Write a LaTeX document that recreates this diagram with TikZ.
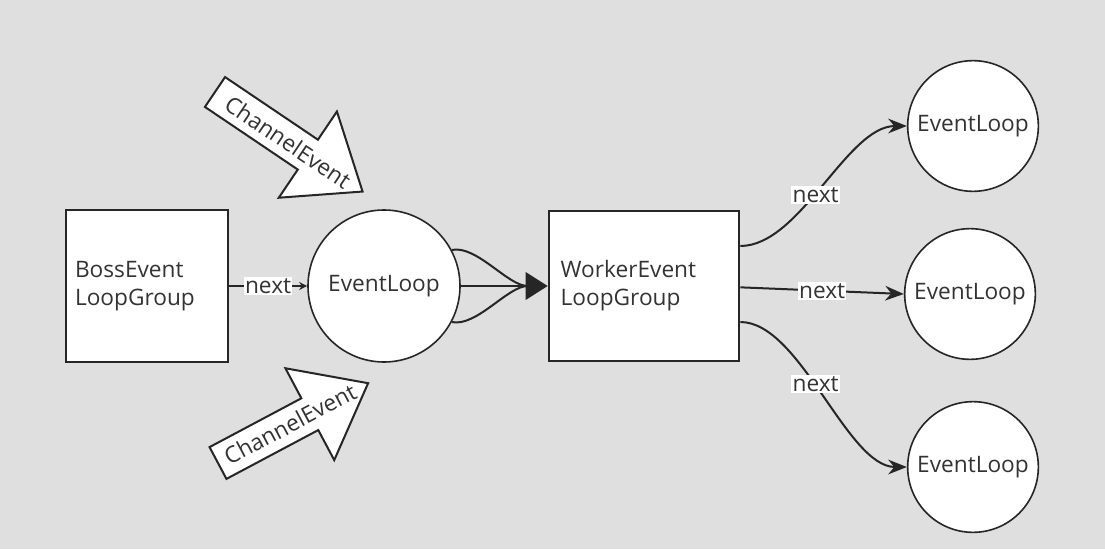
\documentclass[tikz,border=0pt]{standalone}
\usepackage{fontspec}
\setmainfont{Open Sans}
\usetikzlibrary{arrows.meta}
\begin{document}
\begin{tikzpicture}[x=0.75pt,y=-0.75pt,
  every node/.style={font=\fontsize{17}{21}\selectfont, text=black!80},
  box/.style={draw=black!85, line width=1.5pt, fill=white, minimum width=121.5pt, minimum height=114pt, align=left, text width=108pt, inner xsep=6pt},
  wbox/.style={box, minimum width=143pt, minimum height=113pt, text width=125pt, inner xsep=9pt},
  loop/.style={draw=black!85, line width=1.2pt, fill=white, circle, minimum size=98pt, inner sep=0pt},
  conn/.style={draw=black!85, line width=1.5pt},
  lbl/.style={fill=white, inner sep=1pt},
  blk/.style={draw=black!85, line width=1.5pt, fill=white, line join=miter}]
\useasboundingbox (0,0) rectangle (1105,549);
\fill[gray!25] (0,0) rectangle (1105,549);
\node[box] (boss) at (147,286) {BossEvent\\LoopGroup};
\node[loop, minimum size=114pt] (el) at (384,286) {EventLoop};
\node[wbox] (wk) at (644,286) {WorkerEvent\\LoopGroup};
\node[loop] (e1) at (973,126) {EventLoop};
\node[loop] (e2) at (970,294) {EventLoop};
\node[loop] (e3) at (973,467) {EventLoop};
% block arrows
\begin{scope}[shift={(215,92)}, rotate=-34]
\draw[blk] (0,-18) -- (112,-18) -- (112,-52) -- (178,0) -- (112,52) -- (112,18) -- (0,18) -- cycle;
\end{scope}
\node[rotate=-34] (c1) at (288,142) {ChannelEvent};
\begin{scope}[shift={(218,463)}, rotate=28]
\draw[blk] (0,-18) -- (104,-18) -- (104,-52) -- (170,0) -- (104,52) -- (104,18) -- (0,18) -- cycle;
\end{scope}
\node[rotate=28] (c2) at (290,424) {ChannelEvent};
% connectors
\draw[conn, -{Stealth[length=6pt,width=6pt]}] (boss.east) -- node[lbl] (n0) {next} (el.west);
\coordinate (tip) at (wk.west);
\coordinate (m) at ([xshift=-15pt]tip);
\draw[conn] (el.east) -- (m);
\draw[conn] (el.28) .. controls +(25,-5) and +(-20,0) .. (m);
\draw[conn] (el.-28) .. controls +(25,5) and +(-20,0) .. (m);
\fill[black!85] (tip) -- ++(-22,-14) -- ++(0,28) -- cycle;
\draw[conn, -{Stealth[length=14pt,width=11pt]}] ([yshift=30pt]wk.east) .. controls +(60,0) and +(-60,0) .. node[lbl,pos=0.45] (n1) {next} (e1.west);
\draw[conn, -{Stealth[length=14pt,width=11pt]}] ([yshift=-1pt]wk.east) -- node[lbl] (n2) {next} (e2.west);
\draw[conn, -{Stealth[length=14pt,width=11pt]}] ([yshift=-27pt]wk.east) .. controls +(60,0) and +(-60,0) .. node[lbl,pos=0.45] (n3) {next} (e3.west);
\end{tikzpicture}
\end{document}
